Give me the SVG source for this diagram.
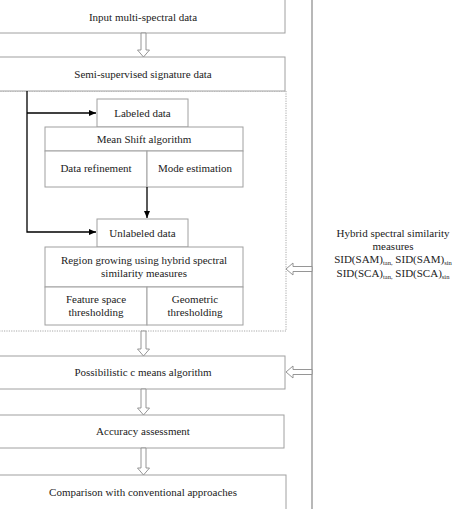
<svg xmlns="http://www.w3.org/2000/svg" width="474" height="509" viewBox="0 0 474 509">
<defs>
<style>
.box{fill:#fff;stroke:#a0a0a0;stroke-width:1}
.hol{fill:#fff;stroke:#8a8a8a;stroke-width:0.9}
.t{font-family:"Liberation Serif","Times New Roman",serif;font-size:11px;fill:#222;text-anchor:middle}
.r{font-family:"Liberation Serif","Times New Roman",serif;font-size:11px;fill:#222;text-anchor:middle}
.sub{font-size:6.5px}
.blk{fill:none;stroke:#000;stroke-width:1.3}
</style>
<marker id="ah" markerWidth="8" markerHeight="8" refX="7" refY="4" orient="auto" markerUnits="userSpaceOnUse">
<path d="M0,1 L7,4 L0,7 Z" fill="#000"/>
</marker>
</defs>
<rect width="474" height="509" fill="#fff"/>

<g id="frame">
<rect x="-2" y="91" width="288" height="240" fill="none" stroke="#a8a8a8" stroke-width="1" stroke-dasharray="1.2,1.2"/>
<line x1="312" y1="0" x2="312" y2="509" stroke="#a0a0a0" stroke-width="1.5"/>
</g>

<g id="n1"><rect class="box" x="-2" y="-1" width="287" height="34"/><text class="t" x="143" y="21">Input multi-spectral data</text></g>
<g id="n2"><rect class="box" x="-2" y="57" width="287" height="34"/><text class="t" x="143" y="78">Semi-supervised signature data</text></g>
<g id="n3"><rect class="box" x="97" y="99" width="91" height="28"/><text class="t" x="142.5" y="117">Labeled data</text></g>
<g id="n4"><rect class="box" x="45" y="127" width="198" height="24"/><text class="t" x="144" y="143">Mean Shift algorithm</text></g>
<g id="n5"><rect class="box" x="45" y="151" width="102" height="36"/><text class="t" x="96" y="172">Data refinement</text></g>
<g id="n6"><rect class="box" x="147" y="151" width="96" height="36"/><text class="t" x="195" y="172">Mode estimation</text></g>
<g id="n7"><rect class="box" x="97" y="219" width="91" height="28"/><text class="t" x="142.5" y="237">Unlabeled data</text></g>
<g id="n8"><rect class="box" x="45" y="247" width="198" height="40"/><text class="t" x="144" y="264">Region growing using hybrid spectral</text><text class="t" x="144" y="277">similarity measures</text></g>
<g id="n9"><rect class="box" x="45" y="287" width="102" height="38"/><text class="t" x="96" y="303">Feature space</text><text class="t" x="96" y="316">thresholding</text></g>
<g id="n10"><rect class="box" x="147" y="287" width="96" height="38"/><text class="t" x="195" y="303">Geometric</text><text class="t" x="195" y="316">thresholding</text></g>
<g id="n11"><rect class="box" x="-2" y="356" width="287" height="33"/><text class="t" x="143" y="376">Possibilistic c means algorithm</text></g>
<g id="n12"><rect class="box" x="-2" y="415" width="286" height="33"/><text class="t" x="143" y="435">Accuracy assessment</text></g>
<g id="n13"><rect class="box" x="-2" y="475" width="288" height="40"/><text class="t" x="143" y="496">Comparison with conventional approaches</text></g>
<g id="n14">
<text class="r" x="393" y="237">Hybrid spectral similarity</text>
<text class="r" x="393" y="250">measures</text>
<text class="r" x="393" y="263">SID(SAM)<tspan class="sub" dy="2">tan,</tspan><tspan dy="-2"> SID(SAM)</tspan><tspan class="sub" dy="2">sin</tspan></text>
<text class="r" x="393" y="277">SID(SCA)<tspan class="sub" dy="2">tan,</tspan><tspan dy="-2"> SID(SCA)</tspan><tspan class="sub" dy="2">sin</tspan></text>
</g>

<g id="connectors">
<polygon class="hol" points="141,33 146,33 146,50 149.5,50 143.5,57 137.5,50 141,50"/>
<polygon class="hol" points="141,331 146,331 146,349 149.5,349 143.5,356 137.5,349 141,349"/>
<polygon class="hol" points="141,389 146,389 146,408 149.5,408 143.5,415 137.5,408 141,408"/>
<polygon class="hol" points="141,448 146,448 146,468 149.5,468 143.5,475 137.5,468 141,468"/>
<polygon class="hol" points="312,266.5 293,266.5 293,263 286,269 293,275 293,271.5 312,271.5"/>
<polygon class="hol" points="312,369.5 293,369.5 293,366 286,372 293,378 293,374.5 312,374.5"/>
<path class="blk" d="M27,91 V232 H96" marker-end="url(#ah)"/>
<path class="blk" d="M27,113 H96" marker-end="url(#ah)"/>
<path class="blk" d="M147,187 V218" marker-end="url(#ah)"/>
</g>
</svg>
